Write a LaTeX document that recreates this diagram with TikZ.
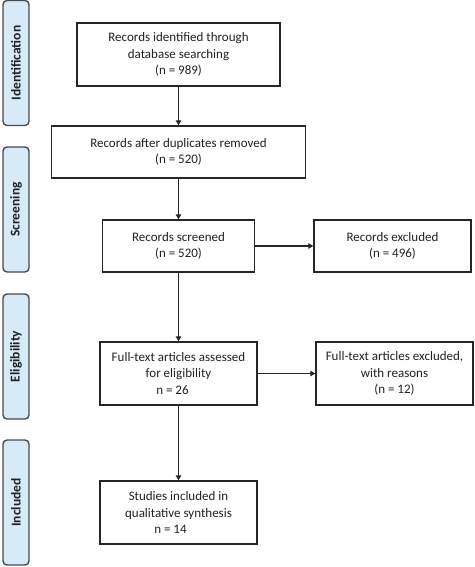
\documentclass[tikz,border=0pt]{standalone}
\usepackage{fontspec}
\setmainfont{Carlito}
\usetikzlibrary{arrows.meta}
\definecolor{sidefill}{HTML}{D6EAF8}
\definecolor{sideline}{HTML}{4A4A4A}
\definecolor{txt}{HTML}{222222}
\tikzset{
  flowbox/.style={draw=black!85, line width=1.4pt, fill=white, align=center,
    font=\fontsize{13}{16.2}\selectfont, text=txt, inner sep=0pt, anchor=center},
  sidebox/.style={draw=sideline, line width=1.4pt, fill=sidefill, rounded corners=4pt,
    minimum width=26pt, minimum height=125pt, inner sep=0pt},
  sidelabel/.style={rotate=90, font=\fontsize{13.5}{15}\selectfont\bfseries, text=txt},
  flowarrow/.style={draw=black!85, line width=1.3pt, -{Triangle[length=5pt,width=5.5pt]}}
}
\begin{document}
\begin{tikzpicture}[x=1pt,y=-1pt]
\useasboundingbox (0,0) rectangle (474,567);
% side labels
\node[sidebox] (s1) at (16,63) {};
\node[sidelabel] (l1) at (s1.center) {Identification};
\node[sidebox] (s2) at (16,209.5) {};
\node[sidelabel] (l2) at (s2.center) {Screening};
\node[sidebox] (s3) at (16,356.5) {};
\node[sidelabel] (l3) at (s3.center) {Eligibility};
\node[sidebox] (s4) at (16,502.5) {};
\node[sidelabel] (l4) at (s4.center) {Included};
% flow boxes
\node[flowbox, minimum width=203pt, minimum height=63pt] (b1) at (178.5,54.5)
  {Records identified through\\database searching\\(n = 989)};
\node[flowbox, minimum width=254pt, minimum height=52pt] (b2) at (178.5,152)
  {Records after duplicates removed\\(n = 520)};
\node[flowbox, minimum width=152pt, minimum height=52pt] (b3) at (178.5,246)
  {Records screened\\(n = 520)};
\node[flowbox, minimum width=157pt, minimum height=52pt] (e1) at (392.5,246)
  {Records excluded\\(n = 496)};
\node[flowbox, minimum width=157pt, minimum height=63pt] (b4) at (178.5,373.5)
  {Full-text articles assessed\\for eligibility\\\hspace*{-12pt}n = 26};
\node[flowbox, minimum width=157pt, minimum height=63pt] (e2) at (394.5,373.5)
  {Full-text articles excluded,\\with reasons\\(n = 12)};
\node[flowbox, minimum width=157pt, minimum height=63pt] (b5) at (178.5,512.5)
  {Studies included in\\qualitative synthesis\\\hspace*{-16pt}n = 14};
% connectors
\draw[flowarrow] (b1.south) -- (b2.north);
\draw[flowarrow] (b2.south) -- (b3.north);
\draw[flowarrow] (b3.south) -- (b4.north);
\draw[flowarrow] (b4.south) -- (b5.north);
\draw[flowarrow] (b3.east) -- (e1.west);
\draw[flowarrow] (b4.east) -- (e2.west);
\end{tikzpicture}
\end{document}
